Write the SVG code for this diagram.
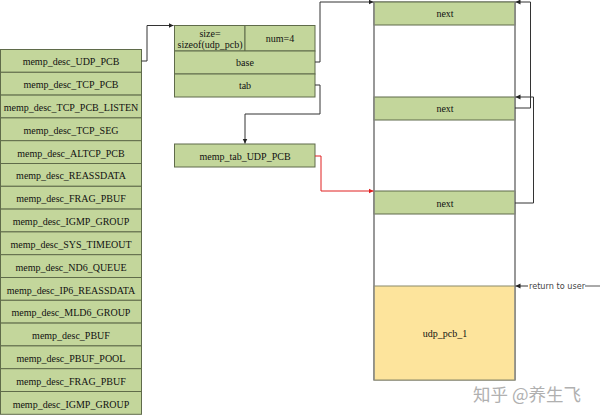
<svg xmlns="http://www.w3.org/2000/svg" width="600" height="416" viewBox="0 0 600 416">
<style>
.g{fill:#c3d69b;stroke:#5f6b4a;stroke-width:1}
.t{font-family:"Liberation Serif","Times New Roman",serif;font-size:10px;fill:#111;text-anchor:middle;dominant-baseline:central}
.c{fill:none;stroke:#333;stroke-width:1}
.r{fill:none;stroke:#e02020;stroke-width:1}
.col{fill:#fff;stroke:#8a8a8a;stroke-width:1.3}
</style>
<defs>
<marker id="a" markerWidth="6" markerHeight="6" refX="5" refY="3" orient="auto" markerUnits="userSpaceOnUse"><path d="M0,0.5 L5,3 L0,5.5 z" fill="#222"/></marker>
<marker id="ar" markerWidth="6" markerHeight="6" refX="5" refY="3" orient="auto" markerUnits="userSpaceOnUse"><path d="M0,0.5 L5,3 L0,5.5 z" fill="#e02020"/></marker>
</defs>
<rect width="600" height="416" fill="#fff"/>
<g id="memp_pools">
<rect class="g" x="0.5" y="49.5" width="141" height="22.8"/><text class="t" x="71" y="61">memp_desc_UDP_PCB</text>
<rect class="g" x="0.5" y="72.3" width="141" height="22.8"/><text class="t" x="71" y="84">memp_desc_TCP_PCB</text>
<rect class="g" x="0.5" y="95.1" width="141" height="22.8"/><text class="t" x="71" y="107">memp_desc_TCP_PCB_LISTEN</text>
<rect class="g" x="0.5" y="117.9" width="141" height="22.8"/><text class="t" x="71" y="130">memp_desc_TCP_SEG</text>
<rect class="g" x="0.5" y="140.7" width="141" height="22.8"/><text class="t" x="71" y="153">memp_desc_ALTCP_PCB</text>
<rect class="g" x="0.5" y="163.5" width="141" height="22.8"/><text class="t" x="71" y="175">memp_desc_REASSDATA</text>
<rect class="g" x="0.5" y="186.3" width="141" height="22.8"/><text class="t" x="71" y="198">memp_desc_FRAG_PBUF</text>
<rect class="g" x="0.5" y="209.1" width="141" height="22.8"/><text class="t" x="71" y="221">memp_desc_IGMP_GROUP</text>
<rect class="g" x="0.5" y="231.9" width="141" height="22.8"/><text class="t" x="71" y="244">memp_desc_SYS_TIMEOUT</text>
<rect class="g" x="0.5" y="254.7" width="141" height="22.8"/><text class="t" x="71" y="267">memp_desc_ND6_QUEUE</text>
<rect class="g" x="0.5" y="277.5" width="141" height="22.8"/><text class="t" x="71" y="290">memp_desc_IP6_REASSDATA</text>
<rect class="g" x="0.5" y="300.3" width="141" height="22.8"/><text class="t" x="71" y="312">memp_desc_MLD6_GROUP</text>
<rect class="g" x="0.5" y="323.1" width="141" height="22.8"/><text class="t" x="71" y="335">memp_desc_PBUF</text>
<rect class="g" x="0.5" y="345.9" width="141" height="22.8"/><text class="t" x="71" y="358">memp_desc_PBUF_POOL</text>
<rect class="g" x="0.5" y="368.7" width="141" height="22.8"/><text class="t" x="71" y="381">memp_desc_FRAG_PBUF</text>
<rect class="g" x="0.5" y="391.5" width="141" height="22.8"/><text class="t" x="71" y="404">memp_desc_IGMP_GROUP</text>
</g>
<g id="memp_desc">
<rect class="g" x="174.5" y="25.5" width="70.5" height="25.5"/>
<rect class="g" x="245" y="25.5" width="70" height="25.5"/>
<rect class="g" x="174.5" y="51" width="140.5" height="23"/>
<rect class="g" x="174.5" y="74" width="140.5" height="23"/>
<text class="t" x="210" y="33">size=</text>
<text class="t" x="210" y="44">sizeof(udp_pcb)</text>
<text class="t" x="280" y="38">num=4</text>
<text class="t" x="245" y="62">base</text>
<text class="t" x="245" y="85">tab</text>
</g>
<g id="memp_tab">
<rect class="g" x="174.5" y="144" width="140.5" height="23"/>
<text class="t" x="245" y="156">memp_tab_UDP_PCB</text>
</g>
<g id="pool_memory">
<rect class="col" x="374" y="2" width="141" height="378"/>
<rect class="g" x="374" y="2" width="141" height="23"/><text class="t" x="445" y="13">next</text>
<rect class="g" x="374" y="97" width="141" height="23"/><text class="t" x="445" y="108">next</text>
<rect class="g" x="374" y="191" width="141" height="23"/><text class="t" x="445" y="203">next</text>
<rect x="374" y="286" width="141" height="94" fill="#fde49c" stroke="#8a8a6a" stroke-width="1"/>
<text class="t" x="445" y="333">udp_pcb_1</text>
<line x1="374" y1="2" x2="374" y2="380" stroke="#8a8a8a" stroke-width="1.3"/>
<line x1="515" y1="2" x2="515" y2="380" stroke="#8a8a8a" stroke-width="1.3"/>
</g>
<g id="connectors">
<path class="c" d="M141.5,61 H147 V25.5 H173.5" marker-end="url(#a)"/>
<path class="c" d="M315,62 H320 V2 H373.5" marker-end="url(#a)"/>
<path class="c" d="M315,85 H320 V114 H245 V143.5" marker-end="url(#a)"/>
<path class="r" d="M315,156 H321 V191 H373.5" marker-end="url(#ar)"/>
<path class="c" stroke="#555" d="M515,108 H530.5 V2 H515.5" marker-end="url(#a)"/>
<path class="c" stroke="#555" d="M515,203 H533.5 V97 H515.5" marker-end="url(#a)"/>
<path class="c" stroke="#555" d="M528,286 H515.5" marker-end="url(#a)"/>
<line x1="585" y1="286" x2="600" y2="286" stroke="#555" stroke-width="1"/>
<text x="529" y="286" font-family="DejaVu Sans,sans-serif" font-size="8" textLength="56" lengthAdjust="spacingAndGlyphs" fill="#444" dominant-baseline="central">return to user</text>
</g>
<text x="473" y="393" font-family="Noto Sans CJK SC,sans-serif" font-size="17.5" fill="#b0b0b0" dominant-baseline="central">知乎 @养生飞</text>
</svg>
